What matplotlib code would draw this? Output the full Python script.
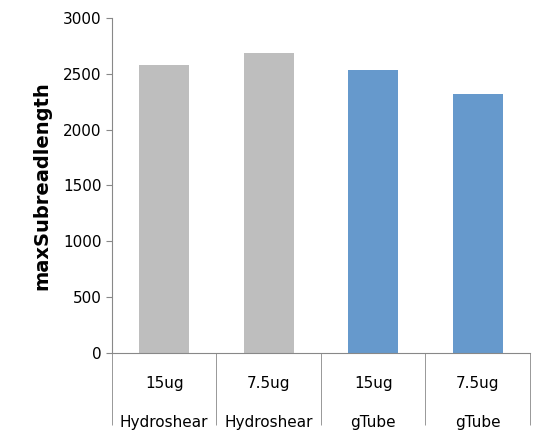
import matplotlib
matplotlib.use("Agg")
import matplotlib.pyplot as plt
import numpy as np

amounts = ["15ug", "7.5ug", "15ug", "7.5ug"]
methods = ["Hydroshear", "Hydroshear", "gTube", "gTube"]
values = [2580, 2690, 2530, 2320]
colors = ["#bebebe", "#bebebe", "#6699cc", "#6699cc"]

fig = plt.figure(figsize=(5.58, 4.38), dpi=100)
ax = fig.add_axes([0.2007, 0.194, 0.749, 0.765])

x = np.arange(len(values))
ax.bar(x, values, width=0.48, color=colors)
ax.set_xlim(-0.5, len(values) - 0.5)
ax.set_ylim(0, 3000)
ax.set_yticks(range(0, 3001, 500))
ax.tick_params(axis="y", labelsize=11, length=4, color="#888888")
ax.set_ylabel("maxSubreadlength", fontsize=14, fontweight="bold", labelpad=8)

# category separators as long minor ticks
ax.set_xticks([])
ax.set_xticks(np.arange(-0.5, len(values)), minor=True)
ax.tick_params(axis="x", which="minor", length=52, color="#888888")
for i in x:
    ax.text(i, -0.09, amounts[i], transform=ax.get_xaxis_transform(),
            ha="center", va="center", fontsize=11)
    ax.text(i, -0.207, methods[i], transform=ax.get_xaxis_transform(),
            ha="center", va="center", fontsize=11)

for s in ["top", "right"]:
    ax.spines[s].set_visible(False)
for s in ["left", "bottom"]:
    ax.spines[s].set_color("#888888")

fig.savefig("out.png", dpi=100)
